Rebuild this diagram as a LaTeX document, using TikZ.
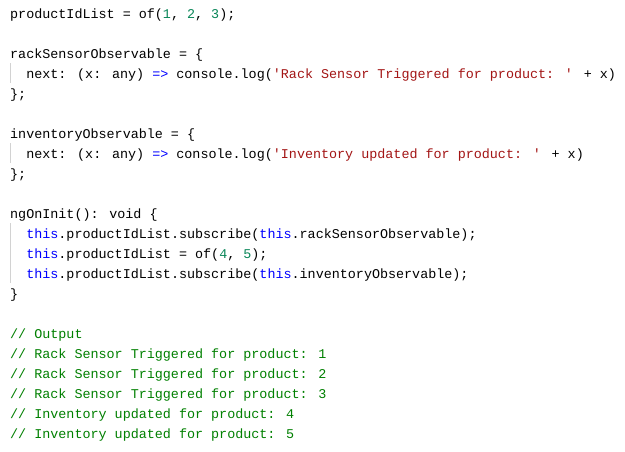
\documentclass[tikz,border=0pt]{standalone}
\usepackage{fontspec}
\newfontfamily\code{Liberation Mono}
\definecolor{kw}{RGB}{0,0,255}
\definecolor{str}{RGB}{163,21,21}
\definecolor{num}{RGB}{9,134,88}
\definecolor{cmt}{RGB}{0,128,0}
\definecolor{guide}{RGB}{210,210,210}
\begin{document}
\begin{tikzpicture}[x=1pt,y=-1pt,
  ln/.style={anchor=base west,inner sep=0pt,font=\code\fontsize{13.4}{16}\selectfont}]
\useasboundingbox[fill=white] (0,0) rectangle (625,451);
\foreach \a/\b in {63/83,143/163,223/283}
  \draw[guide,line width=1pt] (10.5,\a) -- (10.5,\b);
\node[ln] (l1) at (10,18) {productIdList = of(\textcolor{num}{1}, \textcolor{num}{2}, \textcolor{num}{3});};
\node[ln] (l2) at (10,58) {rackSensorObservable = \{};
\node[ln] (l3) at (10,78) {\ \ next: (x: any) \textcolor{kw}{=>} console.log(\textcolor{str}{'Rack Sensor Triggered for product: '} + x)};
\node[ln] (l4) at (10,98) {\};};
\node[ln] (l5) at (10,138) {inventoryObservable = \{};
\node[ln] (l6) at (10,158) {\ \ next: (x: any) \textcolor{kw}{=>} console.log(\textcolor{str}{'Inventory updated for product: '} + x)};
\node[ln] (l7) at (10,178) {\};};
\node[ln] (l8) at (10,218) {ngOnInit(): void \{};
\node[ln] (l9) at (10,238) {\ \ \textcolor{kw}{this}.productIdList.subscribe(\textcolor{kw}{this}.rackSensorObservable);};
\node[ln] (l10) at (10,258) {\ \ \textcolor{kw}{this}.productIdList = of(\textcolor{num}{4}, \textcolor{num}{5});};
\node[ln] (l11) at (10,278) {\ \ \textcolor{kw}{this}.productIdList.subscribe(\textcolor{kw}{this}.inventoryObservable);};
\node[ln] (l12) at (10,298) {\}};
\begin{scope}[every node/.append style={text=cmt}]
\node[ln] (c1) at (10,338) {// Output};
\node[ln] (c2) at (10,358) {// Rack Sensor Triggered for product: 1};
\node[ln] (c3) at (10,378) {// Rack Sensor Triggered for product: 2};
\node[ln] (c4) at (10,398) {// Rack Sensor Triggered for product: 3};
\node[ln] (c5) at (10,418) {// Inventory updated for product: 4};
\node[ln] (c6) at (10,438) {// Inventory updated for product: 5};
\end{scope}
\end{tikzpicture}
\end{document}
